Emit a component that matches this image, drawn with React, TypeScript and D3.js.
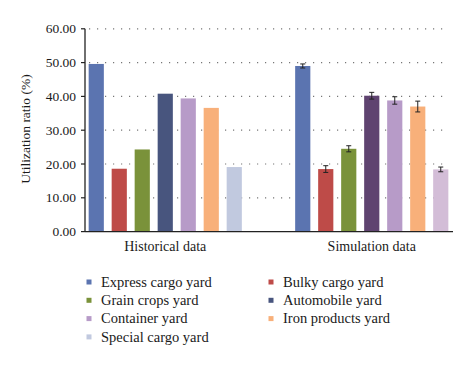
import React from 'react';
import * as d3 from 'd3';

const groups = ['Historical data', 'Simulation data'];
const yards = [
  'Express cargo yard',
  'Bulky cargo yard',
  'Grain crops yard',
  'Automobile yard',
  'Container yard',
  'Iron products yard',
  'Special cargo yard',
];
const historical = [49.6, 18.6, 24.3, 40.8, 39.4, 36.6, 19.1];
const simulation = [49.0, 18.5, 24.5, 40.2, 38.8, 37.0, 18.4];
const simulationErr = [0.6, 1.0, 0.9, 1.0, 1.1, 1.6, 0.7];
const yTicks = [0, 10, 20, 30, 40, 50, 60];

const histColors = ['#5b74b0', '#be4b48', '#7a923a', '#48557e', '#b79bc8', '#f8b07a', '#c1c9df'];
const simColors = ['#5b74b0', '#be4b48', '#7a923a', '#5f4370', '#b79bc8', '#f8b07a', '#d3bdd7'];

const W = 474;
const H = 368;
const FONT = '"Liberation Serif", "DejaVu Serif", serif';

const App = () => {
  const left = 85;
  const plotRight = 449;
  const axisRight = 453;

  const y = d3.scaleLinear().domain([0, 60]).range([231.6, 28.8]);
  const x0 = d3.scaleBand<string>().domain(groups).range([62, 475]);
  const x1 = d3.scaleBand<string>()
    .domain(yards)
    .range([-80.5, 80.5])
    .paddingInner(0.34)
    .paddingOuter(0.17);

  const series = [
    { values: historical, colors: histColors, err: null as number[] | null },
    { values: simulation, colors: simColors, err: simulationErr },
  ];

  return (
    <svg width={W} height={H} style={{ position: 'absolute', left: 0, top: 0, background: '#fff' }}>
      {/* grid */}
      {yTicks.filter(t => t > 0).map(t => (
        <line key={t} x1={left + 4} x2={plotRight} y1={y(t)} y2={y(t)}
          stroke="#777" strokeWidth={1.2} strokeDasharray="1.2,6.8" />
      ))}

      {/* bars */}
      {series.map((s, gi) => {
        const cx = (x0(groups[gi]) as number) + x0.bandwidth() / 2;
        return (
          <g key={gi}>
            {s.values.map((v, i) => {
              const bx = cx + (x1(yards[i]) as number);
              return (
                <rect key={i} x={bx} y={y(v)} width={x1.bandwidth()} height={y(0) - y(v)}
                  fill={s.colors[i]} />
              );
            })}
            {s.err && s.values.map((v, i) => {
              const mx = cx + (x1(yards[i]) as number) + x1.bandwidth() / 2;
              const e = (s.err as number[])[i];
              return (
                <g key={'e' + i} stroke="#222" strokeWidth={1}>
                  <line x1={mx} x2={mx} y1={y(v + e)} y2={y(v - e)} />
                  <line x1={mx - 2.5} x2={mx + 2.5} y1={y(v + e)} y2={y(v + e)} />
                  <line x1={mx - 2.5} x2={mx + 2.5} y1={y(v - e)} y2={y(v - e)} />
                </g>
              );
            })}
          </g>
        );
      })}

      {/* y axis */}
      <line x1={left} x2={left} y1={y(60)} y2={y(0)} stroke="#222" strokeWidth={1.3} />
      {yTicks.map(t => (
        <g key={t}>
          <line x1={left - 4} x2={left} y1={y(t)} y2={y(t)} stroke="#222" strokeWidth={1.2} />
          <text x={left - 9} y={y(t) + 4.5} textAnchor="end" fontFamily={FONT} fontSize={13.5} fill="#1a1a1a">
            {t.toFixed(2)}
          </text>
        </g>
      ))}
      <text transform={`translate(30, 129) rotate(-90)`} textAnchor="middle"
        fontFamily={FONT} fontSize={13.5} fill="#1a1a1a">
        Utilization ratio (%)
      </text>

      {/* x axis */}
      <line x1={left} x2={axisRight} y1={y(0)} y2={y(0)} stroke="#222" strokeWidth={1.3} />
      {groups.map(g => (
        <text key={g} x={(x0(g) as number) + x0.bandwidth() / 2} y={251} textAnchor="middle"
          fontFamily={FONT} fontSize={14} fill="#1a1a1a">
          {g}
        </text>
      ))}

      {/* legend */}
      {yards.map((name, i) => {
        const col = i % 2;
        const row = Math.floor(i / 2);
        const lx = col === 0 ? 89 : 271;
        const ly = 282 + row * 18.3;
        return (
          <g key={name}>
            <rect x={lx - 2.5} y={ly - 2.5} width={5} height={5} fill={histColors[i]} />
            <text x={lx + 12} y={ly + 4.8} fontFamily={FONT} fontSize={14.5} fill="#1a1a1a">
              {name}
            </text>
          </g>
        );
      })}
    </svg>
  );
};

export default App;
